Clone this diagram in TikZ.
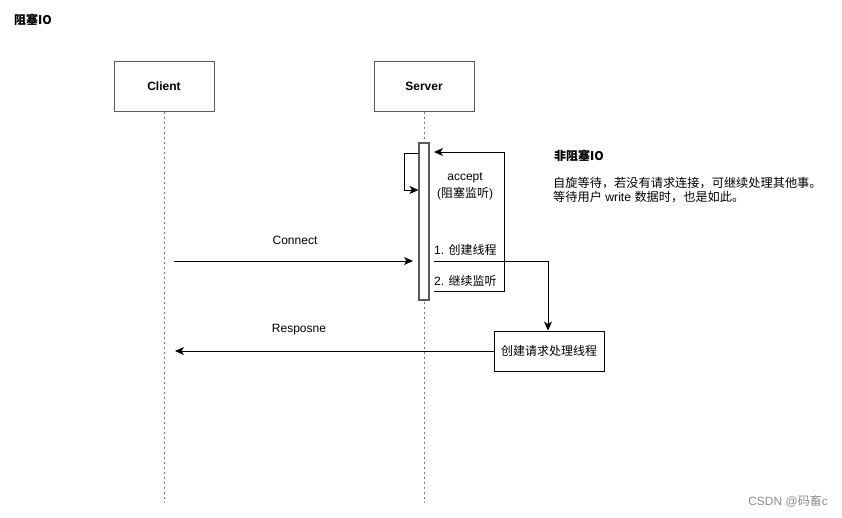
\documentclass[tikz,border=0pt]{standalone}
\usepackage{fontspec}
\setmainfont{Liberation Sans}
\newfontfamily\cjk{Noto Sans CJK SC}
\usetikzlibrary{arrows.meta,calc}
\definecolor{edge}{RGB}{90,90,90}
\definecolor{life}{RGB}{120,120,120}
\definecolor{wmark}{RGB}{140,140,140}
\tikzset{
  box/.style={draw=edge, line width=1pt, fill=white, minimum width=100pt, minimum height=50pt, inner sep=0pt, font=\fontsize{12}{14}\selectfont\bfseries},
  bar/.style={draw=edge, line width=1.2pt, fill=white, minimum width=10pt, minimum height=157pt, inner sep=0pt},
  procbox/.style={draw=black, line width=1pt, fill=white, minimum width=110pt, minimum height=40pt, inner sep=0pt, font=\fontsize{12}{14}\selectfont\cjk},
  lifeline/.style={draw=life, line width=1pt, dash pattern=on 2.5pt off 2.5pt},
  arr/.style={draw=black, line width=1pt, -{Stealth[length=9pt,width=8pt,inset=2.5pt]}},
  lbl/.style={inner sep=0pt, font=\fontsize{12}{14}\selectfont},
}
\begin{document}
\begin{tikzpicture}[x=1pt,y=-1pt]
\useasboundingbox (0,0) rectangle (842,517);
% title
\node[lbl, anchor=west, font=\fontsize{12}{14}\selectfont\cjk\bfseries] (title) at (14,20) {阻塞IO};
% participants
\node[box] (client) at (164,86) {Client};
\node[box] (server) at (424,86) {Server};
\coordinate (clend) at (164,502);
\coordinate (svend) at (424,502);
\draw[lifeline] (client.south) -- (clend);
\draw[lifeline] (server.south) -- (svend);
% activation bar
\node[bar] (act) at (424,221.5) {};
% self loop (left)
\coordinate (sl1) at (404,153);
\coordinate (sl2) at (404,190);
\draw[arr] (act.west |- sl1) -- (sl1) -- (sl2) -- (act.west |- sl2);
% right loop
\coordinate (rl0) at (434,291);
\coordinate (rl1) at (504,291);
\coordinate (rl2) at (504,152);
\coordinate (rl3) at (434,152);
\draw[arr] (rl0) -- (rl1) -- (rl2) -- (rl3);
\node[lbl] (accept) at (465,178) {accept};
\node[lbl] (accept2) at (465,194) {(\cjk 阻塞监听\rmfamily)};
\node[lbl, anchor=west] (step1) at (434,250) {1. {\cjk 创建线程}};
\node[lbl, anchor=west] (step2) at (434,281) {2. {\cjk 继续监听}};
% process box
\node[procbox] (proc) at (549,351) {创建请求处理线程};
\coordinate (c0) at (434,261);
\coordinate (c1) at (548,261);
\draw[arr] (c0) -- (c1) -- (proc.north -| c1);
% connect
\coordinate (cs) at (174,261);
\coordinate (ce) at (413,261);
\draw[arr] (cs) -- (ce);
\node[lbl] (connect) at (295,240) {Connect};
% response
\coordinate (re) at (175,351);
\draw[arr] (proc.west) -- (re);
\node[lbl] (resp) at (299,330) {Resposne};
% note
\node[lbl, anchor=west, font=\fontsize{12}{14}\selectfont\cjk\bfseries] (nbtitle) at (554,156) {非阻塞IO};
\node[lbl, anchor=north west, align=left, font=\fontsize{12.2}{14}\selectfont] (nbtext) at (553,177) {{\cjk 自旋等待，若没有请求连接，可继续处理其他事。}\\{\cjk 等待用户} write {\cjk 数据时，也是如此。}};
% watermark
\node[lbl, anchor=east, text=wmark, font=\fontsize{12}{14}\selectfont] (wm) at (828,501) {CSDN @{\cjk 码畜}c};
\end{tikzpicture}
\end{document}
